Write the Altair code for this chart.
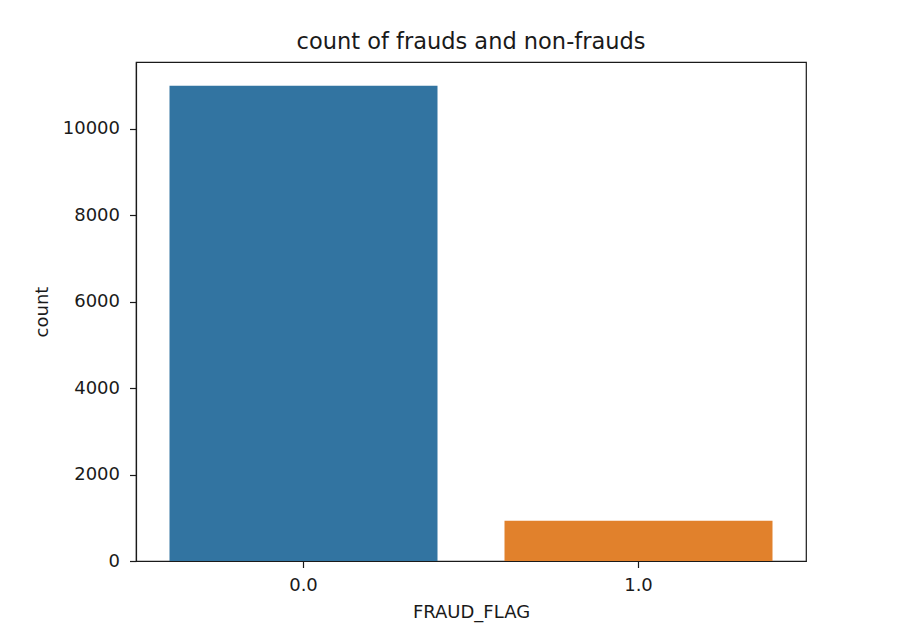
import altair as alt
import pandas as pd

categories = ["0.0", "1.0"]
counts = [10995, 932]
colors = ["#3274a1", "#e1812c"]

df = pd.DataFrame({"FRAUD_FLAG": categories, "count": counts})

font = "DejaVu Sans"

chart = alt.Chart(df).mark_bar().encode(
    x=alt.X("FRAUD_FLAG:N", sort=categories,
            scale=alt.Scale(paddingInner=0.2, paddingOuter=0.1),
            axis=alt.Axis(title="FRAUD_FLAG", labelAngle=0, labelPadding=9, tickSize=6.5,
                          titlePadding=9)),
    y=alt.Y("count:Q", scale=alt.Scale(domain=[0, 11545], nice=False, zero=True),
            axis=alt.Axis(title="count", values=[0, 2000, 4000, 6000, 8000, 10000], format="d",
                          grid=False, labelPadding=10, tickSize=6.5, titlePadding=11)),
    color=alt.Color("FRAUD_FLAG:N", scale=alt.Scale(domain=categories, range=colors), legend=None),
).properties(
    width=670, height=499,
    title=alt.TitleParams("count of frauds and non-frauds", font=font, fontSize=22.5,
                          fontWeight="normal", color="#1a1a1a", offset=9),
    padding={"left": 128, "top": 54, "right": 20, "bottom": 70},
    autosize=alt.AutoSizeParams(type="none"),
).configure_view(
    stroke="#1a1a1a", strokeWidth=1.2
).configure_axis(
    labelFont=font, titleFont=font, labelFontSize=18, titleFontSize=18,
    labelColor="#1a1a1a", titleColor="#1a1a1a", titleFontWeight="normal",
    domainColor="#1a1a1a", tickColor="#1a1a1a", domainWidth=1.2, tickWidth=1.2,
)

chart.save("out.html", embed_options={"renderer": "svg", "actions": False})
